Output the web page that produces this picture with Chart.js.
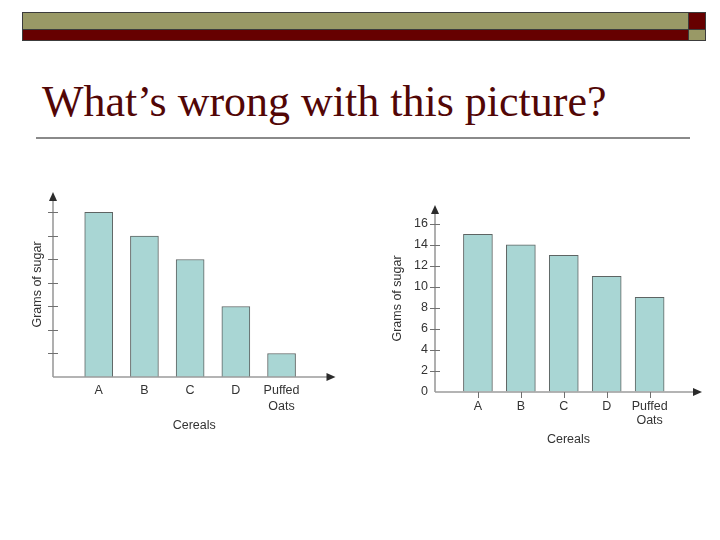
<!DOCTYPE html>
<html>
<head>
<meta charset="utf-8">
<script src="https://cdn.jsdelivr.net/npm/chart.js@4"></script>
<style>
  html, body { margin: 0; padding: 0; background: #ffffff; }
  #slide { position: relative; width: 720px; height: 540px; overflow: hidden; background: #fff; }
  .blk { position: absolute; box-sizing: border-box; border: 1px solid #3c3c3c; }
  #title { position: absolute; left: 42px; top: 80px; margin: 0; font-family: "Liberation Serif", "Times New Roman", serif;
           font-size: 44px; line-height: 44px; font-weight: normal; color: #520606; white-space: nowrap; }
  #rule { position: absolute; left: 36px; top: 137px; width: 654px; height: 2px; background: #8a8a8a; }
  .wrap { position: absolute; }
</style>
</head>
<body>
<div id="slide">
  <div class="blk" style="left:22px;top:12px;width:667px;height:18px;background:#999966;"></div>
  <div class="blk" style="left:22px;top:29px;width:667px;height:12px;background:#660000;"></div>
  <div class="blk" style="left:688px;top:12px;width:18px;height:18px;background:#660000;"></div>
  <div class="blk" style="left:688px;top:29px;width:18px;height:12px;background:#999966;"></div>
  <h1 id="title">What’s wrong with this picture?</h1>
  <div id="rule"></div>
  <div class="wrap" style="left:0px;top:170px;width:360px;height:280px;"><canvas id="left"></canvas></div>
  <div class="wrap" style="left:360px;top:170px;width:360px;height:290px;"><canvas id="right"></canvas></div>
</div>
<script>
// ---- data ----
const categories = ['A', 'B', 'C', 'D', ['Puffed', 'Oats']];
const sugarGrams = [15, 14, 13, 11, 9];
const leftYTicks = [9, 10, 11, 12, 13, 14, 15];          // unlabeled tick marks (truncated axis)
const rightYTicks = [0, 2, 4, 6, 8, 10, 12, 14, 16];     // labeled tick marks
const xTitle = 'Cereals';
const yTitle = 'Grams of sugar';

const FONT = '"Liberation Sans", Arial, Helvetica, sans-serif';
const BAR_FILL = '#a9d6d4';
const BAR_EDGE = '#5e6463';

const axisArrows = {
  id: 'axisArrows',
  afterDatasetsDraw(chart, args, opts) {
    const { ctx, chartArea: a, scales: { x, y } } = chart;
    ctx.save();
    ctx.strokeStyle = '#9c9c9c';
    ctx.lineWidth = 1.6;
    ctx.beginPath();
    ctx.moveTo(a.left, a.bottom); ctx.lineTo(a.right - 6, a.bottom);
    ctx.moveTo(a.left, a.bottom); ctx.lineTo(a.left, a.top + 6);
    ctx.stroke();
    ctx.fillStyle = '#2b2b2b';
    ctx.beginPath();
    ctx.moveTo(a.right, a.bottom); ctx.lineTo(a.right - 9, a.bottom - 4); ctx.lineTo(a.right - 9, a.bottom + 4);
    ctx.closePath(); ctx.fill();
    ctx.beginPath();
    ctx.moveTo(a.left, a.top); ctx.lineTo(a.left - 4, a.top + 9); ctx.lineTo(a.left + 4, a.top + 9);
    ctx.closePath(); ctx.fill();
    ctx.strokeStyle = '#707070';
    ctx.lineWidth = 1;
    y.ticks.forEach(t => {
      if (t.value === y.min) return;
      const py = Math.round(y.getPixelForValue(t.value)) + 0.5;
      ctx.beginPath(); ctx.moveTo(a.left - 5, py); ctx.lineTo(a.left + 5, py); ctx.stroke();
    });
    if (opts.xTicks) {
      x.ticks.forEach(t => {
        const px = Math.round(x.getPixelForValue(t.value)) + 0.5;
        ctx.beginPath(); ctx.moveTo(px, a.bottom); ctx.lineTo(px, a.bottom + 6); ctx.stroke();
      });
    }
    ctx.restore();
  }
};

function makeChart(id, s) {
  const points = sugarGrams.map((v, i) => ({ x: i + 1, y: v }));
  return new Chart(document.getElementById(id), {
    type: 'bar',
    data: {
      datasets: [{
        data: points,
        backgroundColor: BAR_FILL,
        borderColor: BAR_EDGE,
        borderWidth: 1,
        barThickness: s.barThickness
      }]
    },
    plugins: [axisArrows],
    options: {
      responsive: true,
      maintainAspectRatio: false,
      animation: false,
      layout: { padding: { left: 0, top: s.padTop, right: s.padRight, bottom: 0 } },
      plugins: {
        legend: { display: false },
        tooltip: { enabled: false },
        axisArrows: { xTicks: s.xTicks }
      },
      scales: {
        x: {
          type: 'linear',
          offset: false,
          min: 0,
          max: s.xMax,
          afterBuildTicks: sc => { sc.ticks = categories.map((c, i) => ({ value: i + 1 })); },
          afterFit: sc => { sc.height = s.xAxisHeight; },
          grid: { display: true, drawOnChartArea: false, drawTicks: false, offset: false },
          border: { display: false },
          ticks: {
            autoSkip: false,
            maxRotation: 0,
            padding: s.xTickPad,
            color: '#333333',
            font: { family: FONT, size: 12.5, lineHeight: s.lineHeight },
            callback: v => categories[v - 1] ?? ''
          },
          title: {
            display: true,
            text: xTitle,
            color: '#333333',
            font: { family: FONT, size: 12.5, lineHeight: 1.2 },
            padding: { top: 0, bottom: s.xTitlePad }
          }
        },
        y: {
          type: 'linear',
          min: s.yMin,
          max: s.yMax,
          afterBuildTicks: sc => { sc.ticks = s.yTicks.map(v => ({ value: v })); },
          afterFit: sc => { sc.width = s.yAxisWidth; },
          grid: { display: true, drawOnChartArea: false, drawTicks: false },
          border: { display: false },
          ticks: {
            padding: 7,
            color: '#333333',
            font: { family: FONT, size: 12.5 },
            callback: v => (s.yLabels ? String(v) : '')
          },
          title: {
            display: true,
            text: yTitle,
            color: '#333333',
            font: { family: FONT, size: 12.5, lineHeight: 1.2 },
            padding: { top: s.yTitlePad, bottom: 0 }
          }
        }
      }
    }
  });
}

makeChart('left', {
  barThickness: 28, padTop: 22, padRight: 24.5, xMax: 6.18,
  xAxisHeight: 73, xTickPad: 6, lineHeight: 1.24, xTitlePad: 16.5,
  yMin: 8, yMax: 15.87, yTicks: leftYTicks, yLabels: false, yAxisWidth: 53, yTitlePad: 30.5,
  xTicks: false
});

makeChart('right', {
  barThickness: 29, padTop: 35, padRight: 18, xMax: 6.22,
  xAxisHeight: 68, xTickPad: 7, lineHeight: 1.16, xTitlePad: 13,
  yMin: 0, yMax: 17.8, yTicks: rightYTicks, yLabels: true, yAxisWidth: 75, yTitlePad: 30.5,
  xTicks: true
});
</script>
</body>
</html>
